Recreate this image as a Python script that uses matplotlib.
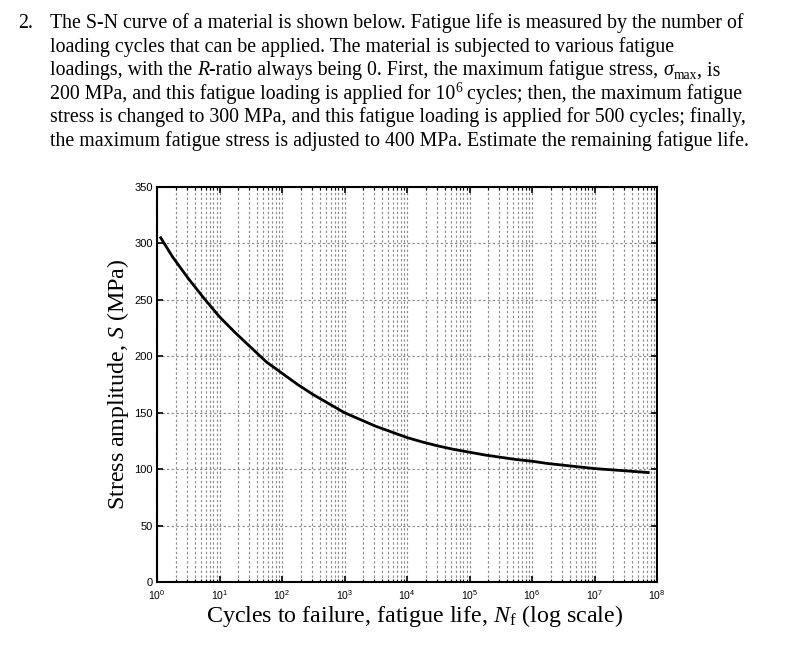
import matplotlib
matplotlib.use("Agg")
import matplotlib.pyplot as plt
import numpy as np
from matplotlib.ticker import LogLocator, FixedLocator, NullFormatter

# --- data --------------------------------------------------------------
log_cycles = [0.06, 0.25, 0.5, 0.75, 1.0, 1.25, 1.5, 1.75, 2.0, 2.25, 2.5, 2.75,
              3.0, 3.25, 3.5, 3.75, 4.0, 4.25, 4.5, 4.75, 5.0, 5.25, 5.5, 5.75,
              6.0, 6.25, 6.5, 6.75, 7.0, 7.25, 7.5, 7.86]
stress = [305, 288, 269, 251.5, 235, 221, 208, 195, 185, 175, 166, 158,
          150, 144, 138, 133, 128, 124, 120.5, 117.5, 115, 112.5, 110.5, 108.5,
          107, 105, 103.5, 102, 100.5, 99.5, 98.5, 97]
y_ticks = [0, 50, 100, 150, 200, 250, 300, 350]
x_exponents = list(range(9))

# question text, one list of runs per line: (text, style, space before)
question_lines = [
    [("The S-N curve of a material is shown below. Fatigue life is measured by the number of", "n", False)],
    [("loading cycles that can be applied. The material is subjected to various fatigue", "n", False)],
    [("loadings, with the", "n", False), ("R", "i", True),
     ("-ratio always being 0. First, the maximum fatigue stress,", "n", False),
     ("σ", "i", True), ("max", "sub", False), (", is", "n", False)],
    [("200 MPa, and this fatigue loading is applied for 10", "n", False), ("6", "sup", False),
     ("cycles; then, the maximum fatigue", "n", True)],
    [("stress is changed to 300 MPa, and this fatigue loading is applied for 500 cycles; finally,", "n", False)],
    [("the maximum fatigue stress is adjusted to 400 MPa. Estimate the remaining fatigue life.", "n", False)],
]
# ------------------------------------------------------------------------

plt.rcParams["font.family"] = ["Liberation Serif", "DejaVu Serif"]
plt.rcParams["mathtext.fontset"] = "custom"
plt.rcParams["mathtext.rm"] = "Liberation Serif"
plt.rcParams["mathtext.it"] = "Liberation Serif:italic"
plt.rcParams["mathtext.sf"] = "Liberation Sans"

W, H = 785, 647
FS = 14.35
fig = plt.figure(figsize=(W / 100, H / 100), dpi=100)
renderer = fig.canvas.get_renderer()


def px(x, y):
    return x / W, 1 - y / H


def text_width(t):
    return t.get_window_extent(renderer).width


# width of one space at the body size
probe_a = fig.text(0, 0, "x x", fontsize=FS)
probe_b = fig.text(0, 0, "xx", fontsize=FS)
space_w = text_width(probe_a) - text_width(probe_b)
probe_a.remove()
probe_b.remove()

run_styles = {
    "n": dict(fontsize=FS, dy=0),
    "i": dict(fontsize=FS, style="italic", dy=0),
    "sub": dict(fontsize=FS * 0.68, dy=4),
    "sup": dict(fontsize=FS * 0.68, dy=-7),
}

fig.text(*px(18, 28), "2.", fontsize=FS, va="baseline", ha="left")
for i, runs in enumerate(question_lines):
    x, y = 50.0, 28 + i * 23.6
    for txt, style, space in runs:
        if space:
            x += space_w
        props = dict(run_styles[style])
        dy = props.pop("dy")
        t = fig.text(*px(x, y + dy), txt, va="baseline", ha="left", **props)
        x += text_width(t)

left, right, top, bottom = 157, 657, 187, 582
ax = fig.add_axes([left / W, 1 - bottom / H, (right - left) / W, (bottom - top) / H])

cycles = 10.0 ** np.asarray(log_cycles)
ax.plot(cycles, stress, color="black", lw=2, solid_joinstyle="round")
ax.set_xscale("log")
ax.set_xlim(1, 1e8)
ax.set_ylim(0, 350)

ax.xaxis.set_major_locator(FixedLocator([10.0 ** k for k in x_exponents]))
ax.set_xticklabels([rf"$\mathsf{{10^{{{k}}}}}$" for k in x_exponents])
ax.xaxis.set_minor_locator(LogLocator(base=10, subs=np.arange(2, 10), numticks=100))
ax.xaxis.set_minor_formatter(NullFormatter())
ax.set_yticks(y_ticks)

for lab in ax.get_yticklabels():
    lab.set_family(["Liberation Sans", "DejaVu Sans"])
ax.tick_params(axis="both", which="major", direction="in", length=4, width=1.2,
               top=True, right=True, labelsize=8, pad=3)
ax.tick_params(axis="x", which="major", labelsize=7.5, pad=4.5)
ax.tick_params(axis="x", which="minor", direction="in", length=2.5, width=0.8, top=True)

grid_style = dict(color="0.55", linestyle=(0, (2, 2)), linewidth=0.85)
ax.grid(True, which="major", axis="both", **grid_style)
ax.grid(True, which="minor", axis="x", **grid_style)
ax.set_axisbelow(True)

for s in ax.spines.values():
    s.set_linewidth(1.5)

ax.set_xlabel(r"Cycles to failure, fatigue life, $\mathit{N}_{\mathrm{f}}$ (log scale)", fontsize=17.3)
ax.xaxis.set_label_coords(0.515, -0.085)
ax.xaxis.label.set_va("center")
ax.set_ylabel(r"Stress amplitude, $\mathit{S}$ (MPa)", fontsize=17.3)
ax.yaxis.set_label_coords(-0.078, 0.5)
ax.yaxis.label.set_va("center")

fig.savefig("out.png", dpi=100)
